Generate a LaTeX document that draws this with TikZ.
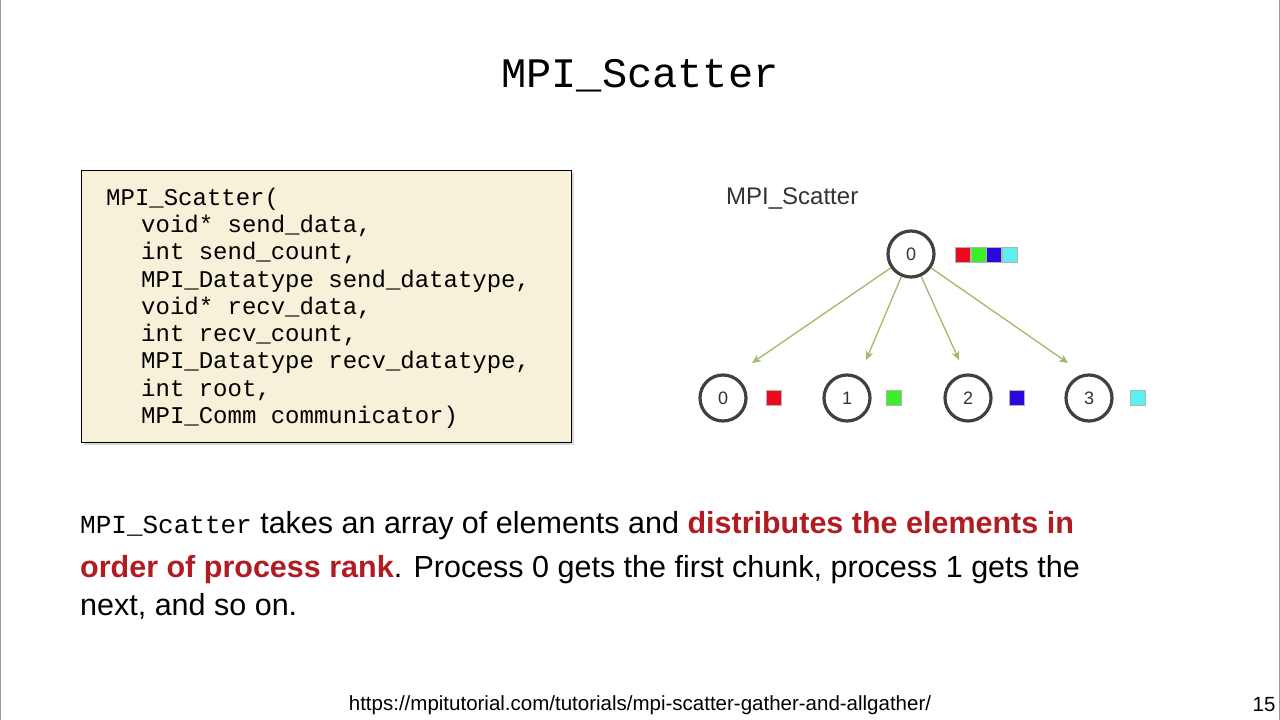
\documentclass[tikz,border=0pt]{standalone}
\usepackage{fontspec}
\usetikzlibrary{shadows,arrows.meta}
\setmainfont{Liberation Sans}
\setmonofont{Liberation Mono}
\definecolor{boxbg}{HTML}{F7F1D9}
\definecolor{darkred}{HTML}{B01C22}
\definecolor{arrowg}{HTML}{9DBB6A}
\begin{document}
\begin{tikzpicture}[x=1pt,y=-1pt,
  proc/.style={circle,draw=black!75,line width=3.2pt,minimum size=46pt,inner sep=0pt,font=\fontsize{18}{18}\selectfont,text=black!80},
  sq/.style={minimum size=15pt,inner sep=0pt,draw=black!30,line width=0.5pt},
  arr/.style={draw=arrowg,line width=1.3pt,-{Stealth[length=9pt,width=8pt]}},
  code/.style={anchor=base west,font=\fontsize{24}{24}\selectfont\ttfamily,inner sep=0pt},
  body/.style={anchor=base west,font=\fontsize{30.5}{30.5}\selectfont,inner sep=0pt}]
\useasboundingbox (0,0) rectangle (1280,720);
\fill[white] (0,0) rectangle (1280,720);
\draw[black!40,line width=1pt] (0.5,0)--(0.5,720) (1279.5,0)--(1279.5,720);
\node (title) at (640,76) {\fontsize{42}{42}\selectfont\ttfamily MPI\_Scatter};
% code box
\node[draw=black,line width=1.2pt,fill=boxbg,minimum width=490pt,minimum height=272pt,anchor=north west,inner sep=0pt,
  drop shadow={opacity=0.3,shadow xshift=2pt,shadow yshift=-2pt}] (box) at (81,170) {};
\node[code] (c0) at (106,205) {MPI\_Scatter(};
\node[code] (c1) at (141,232) {void* send\_data,};
\node[code] (c2) at (141,259) {int send\_count,};
\node[code] (c3) at (141,287) {MPI\_Datatype send\_datatype,};
\node[code] (c4) at (141,314) {void* recv\_data,};
\node[code] (c5) at (141,341) {int recv\_count,};
\node[code] (c6) at (141,368) {MPI\_Datatype recv\_datatype,};
\node[code] (c7) at (141,396) {int root,};
\node[code] (c8) at (141,423) {MPI\_Comm communicator)};
% diagram
\node[anchor=west,font=\fontsize{24}{24}\selectfont,text=black!80,inner sep=0pt] (dlab) at (726,199) {MPI\_Scatter};
\node[proc] (r) at (911,254) {0};
\node[proc] (p0) at (723,398) {0};
\node[proc] (p1) at (847,398) {1};
\node[proc] (p2) at (968,398) {2};
\node[proc] (p3) at (1089,398) {3};
\node[sq,fill={rgb,255:red,235;green,10;blue,30}] (s0) at (963,255) {};
\node[sq,fill={rgb,255:red,60;green,240;blue,40},anchor=west] (s1) at (s0.east) {};
\node[sq,fill={rgb,255:red,40;green,10;blue,220},anchor=west] (s2) at (s1.east) {};
\node[sq,fill={rgb,255:red,90;green,240;blue,240},anchor=west] (s3) at (s2.east) {};
\node[sq,fill={rgb,255:red,235;green,10;blue,30}] (b0) at (774,398) {};
\node[sq,fill={rgb,255:red,60;green,240;blue,40}] (b1) at (894,398) {};
\node[sq,fill={rgb,255:red,40;green,10;blue,220}] (b2) at (1017,398) {};
\node[sq,fill={rgb,255:red,90;green,240;blue,240}] (b3) at (1138,398) {};
\coordinate (e0) at (752,363);
\coordinate (e1) at (866,360);
\coordinate (e2) at (959,360);
\coordinate (e3) at (1068,363);
\draw[arr] (r) -- (e0);
\draw[arr] (r) -- (e1);
\draw[arr] (r) -- (e2);
\draw[arr] (r) -- (e3);
% body text
\node[body] (l1) at (80,533) {{\ttfamily\fontsize{26}{26}\selectfont MPI\_Scatter} takes an array of elements and \textcolor{darkred}{\textbf{distributes the elements in}}};
\node[body] (l2) at (80,577) {\textcolor{darkred}{\textbf{order of process rank}}. Process 0 gets the first chunk, process 1 gets the};
\node[body] (l3) at (80,615) {next, and so on.};
\node[font=\fontsize{20.5}{20.5}\selectfont] (url) at (640,705) {https://mpitutorial.com/tutorials/mpi-scatter-gather-and-allgather/};
\node[font=\fontsize{20.5}{20.5}\selectfont] (pg) at (1264,705) {15};
\end{tikzpicture}
\end{document}
